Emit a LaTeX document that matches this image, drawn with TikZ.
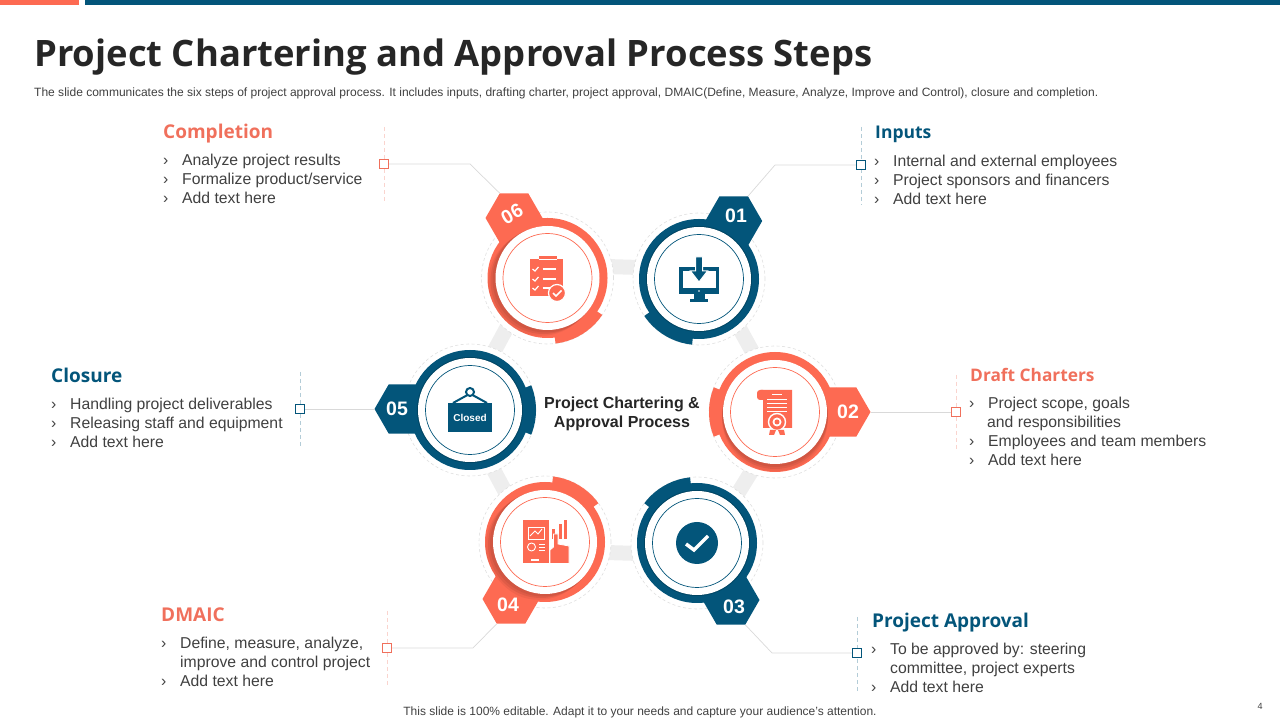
\documentclass[tikz,border=0pt]{standalone}
\usepackage{fontspec}
\setmainfont{Liberation Sans}
\newfontfamily\headfont{Open Sans}
\usetikzlibrary{shapes,shapes.geometric,positioning,backgrounds}
\definecolor{coral}{HTML}{FD6A52}
\definecolor{navy}{HTML}{03557A}
\definecolor{headcoral}{HTML}{F0705C}
\definecolor{inktext}{HTML}{404040}
\definecolor{titleink}{HTML}{262626}
\definecolor{leadgray}{HTML}{D9D9D9}
\tikzset{
  ringnode/.style={circle,inner sep=0pt,minimum size=120pt},
  badge/.style={regular polygon,regular polygon sides=6,inner sep=0pt,minimum size=57pt},
  badgetext/.style={text=white,font=\fontsize{19.5}{19.5}\selectfont\bfseries,inner sep=0pt},
  headtext/.style={anchor=base west,inner sep=0pt,font=\headfont\fontsize{19}{22}\selectfont\bfseries},
  listtext/.style={anchor=north west,inner sep=0pt,align=left,text=inktext,font=\fontsize{15.75}{19}\selectfont},
  marker/.style={draw=#1,fill=white,line width=.9pt,minimum size=9.5pt,inner sep=0pt},
  linkbar/.style={draw=gray!13,line width=15pt},
  leadline/.style={draw=leadgray,line width=.7pt},
  guideline/.style={draw=#1!30,line width=.6pt,dash pattern=on 4pt off 3pt}
}
\newcommand{\itm}{\makebox[19pt][l]{›}}
\begin{document}
\begin{tikzpicture}[x=1pt,y=1pt]
  \useasboundingbox (0,0) rectangle (1280,720);
  % top strips
  \fill[coral] (0,715) rectangle (79,720);
  \fill[navy] (85,715) rectangle (1280,720);
  % heading lines
  \node[anchor=base west,inner sep=0pt,text=titleink,font=\headfont\fontsize{36.4}{40}\selectfont\bfseries] (title) at (34,653) {Project Chartering and Approval Process Steps};
  \node[anchor=west,inner sep=0pt,text=inktext,font=\fontsize{12.02}{14}\selectfont] (subtitle) at (34,626.5) {The slide communicates the six steps of project approval process. It includes inputs, drafting charter, project approval, DMAIC(Define, Measure, Analyze, Improve and Control), closure and completion.};
  \node[inner sep=0pt,text=inktext,font=\fontsize{12}{14}\selectfont] (footer) at (640,8) {This slide is 100\% editable. Adapt it to your needs and capture your audience's attention.};
  \node[inner sep=0pt,text=inktext,font=\fontsize{9}{10}\selectfont] (pageno) at (1260,14) {4};
  % the six rings
  \foreach \nm/\cx/\cy/\col/\from/\to/\bx/\by/\dx/\dy in {
    1/699/441/navy/214/264/733.7/499/0/0,
    2/775/308/coral/158/202/842/308/0/-4,
    3/697/177/navy/96/143/731/120/0/0,
    4/545/178/coral/36/83/511/121/-4/-3,
    5/470/310/navy/-22/22/403/311/0/0,
    6/547.5/442/coral/-83/-34/514/502/-4/-3}{
    \filldraw[fill=white,draw=gray!25,line width=.6pt,dash pattern=on 3pt off 2.5pt] (\cx,\cy) circle (66);
    \fill[\col] (\cx,\cy) -- ++(\from:66) arc[start angle=\from,end angle=\to,radius=66] -- cycle;
    \node[badge,fill=\col] (badge\nm) at (\bx,\by) {};
    \node[ringnode,fill=\col] (ring\nm) at (\cx,\cy) {};
    \begin{scope}
      \clip (\cx,\cy) circle (60);
      \fill[black,opacity=.05] (\cx+\dx*1.6,\cy+\dy*1.6) circle (53);
      \fill[black,opacity=.07] (\cx+\dx,\cy+\dy) circle (53);
      \fill[black,opacity=.06] (\cx+\dx*.5,\cy+\dy*.5) circle (53);
    \end{scope}
    \fill[white] (\cx,\cy) circle (52);
    \draw[\col,line width=.7pt] (\cx,\cy) circle (44.5);
  }
  % links between rings
  \begin{pgfonlayer}{background}
    \draw[linkbar] (ring6.11) -- (ring1.169);
    \draw[linkbar] (ring1.310) -- (ring2.110);
    \draw[linkbar] (ring2.249) -- (ring3.50);
    \draw[linkbar] (ring3.190) -- (ring4.350);
    \draw[linkbar] (ring4.129) -- (ring5.291);
    \draw[linkbar] (ring5.68) -- (ring6.230);
  \end{pgfonlayer}
  % numbers
  \node[badgetext] (num1) at (736,504) {01};
  \node[badgetext] (num2) at (848,308) {02};
  \node[badgetext] (num3) at (734,113) {03};
  \node[badgetext] (num4) at (508,115) {04};
  \node[badgetext] (num5) at (397,311) {05};
  \node[badgetext,rotate=30] (num6) at (512,506) {06};
  % centre text
  \node[align=center,inner sep=0pt,text=titleink,font=\fontsize{16}{19}\selectfont\bfseries] (hub) at (622,306) {Project Chartering \&\\Approval Process};
  % icon 01 monitor
  \begin{scope}[shift={(ring1.center)}]
    \fill[navy] (-20,12) rectangle (20,-15);
    \fill[white] (-16.5,8) rectangle (16.5,-9);
    \fill[navy] (-5.5,-15) rectangle (5.5,-20);
    \fill[navy] (-9,-20) rectangle (9,-23);
    \fill[white] (0,-12) circle (.9);
    \filldraw[navy,draw=white,line width=1pt] (-3.5,22) -- (3.5,22) -- (3.5,8) -- (8.5,8) -- (0,-3) -- (-8.5,8) -- (-3.5,8) -- cycle;
  \end{scope}
  % icon 02 scroll
  \begin{scope}[shift={(ring2.center)}]
    \fill[coral,rounded corners=3pt] (-18,22) rectangle (-9,12);
    \fill[coral] (-14,22) -- (17,22) -- (17,-16) -- (-12,-16) -- (-12,22) -- cycle;
    \draw[white,line width=1pt] (-3,17) -- (7,17);
    \foreach \ly in {12,8,4,0}
      \draw[white,line width=1pt] (-8,\ly) -- (12,\ly);
    \filldraw[coral,draw=white,line width=1.4pt] (2,-10) circle (8.5);
    \fill[white] (2,-10) circle (4.5);
    \fill[coral] (2,-10) circle (2.5);
    \fill[coral] (-5,-18) -- (1,-18) -- (-1,-23) -- (-6,-23) -- cycle;
    \fill[coral] (3,-18) -- (9,-18) -- (10,-23) -- (5,-23) -- cycle;
  \end{scope}
  % icon 03 tick
  \begin{scope}[shift={(ring3.center)}]
    \fill[navy] (0,0) circle (21);
    \draw[white,line width=3.5pt] (-11,-1) -- (-3,-7) -- (11,7);
  \end{scope}
  % icon 04 phone and hand
  \begin{scope}[shift={(ring4.center)}]
    \fill[coral] (-22,22) rectangle (4,-21);
    \draw[white,line width=.9pt] (-17,15) rectangle (-1,3);
    \draw[white,line width=.9pt] (-15,6) -- (-10,11) -- (-7,8) -- (-3,13);
    \draw[white,line width=.9pt] (-13.5,-5) circle (4);
    \draw[white,line width=.8pt] (-6,-2) -- (0,-2) (-6,-5) -- (0,-5) (-6,-8) -- (0,-8);
    \fill[white] (-14,-17) rectangle (-6,-19);
    \fill[coral] (6.5,3) rectangle (10,13);
    \fill[coral] (13.5,3) rectangle (17,18);
    \fill[coral] (18.5,3) rectangle (22,22);
    \filldraw[coral,draw=white,line width=.8pt] (5,-21.5) -- (5,-8) -- (8.5,-5) -- (8.5,8) -- (13,8) -- (13,-2) -- (24,-4) -- (24,-21.5) -- cycle;
  \end{scope}
  % icon 05 sign
  \begin{scope}[shift={(ring5.center)}]
    \draw[navy,line width=2pt] (0,18) circle (4);
    \draw[navy,line width=2pt] (-17,7) -- (-2.5,15) (17,7) -- (2.5,15);
    \node[fill=navy,text=white,minimum width=44pt,minimum height=29pt,inner sep=0pt,font=\fontsize{10}{12}\selectfont\bfseries] (signboard) at (0,-7.5) {Closed};
  \end{scope}
  % icon 06 clipboard
  \begin{scope}[shift={(ring6.center)}]
    \fill[coral] (-18,19) rectangle (15,-18);
    \fill[coral] (-9,22) rectangle (9,16);
    \draw[white,line width=.8pt] (-9,19) -- (9,19);
    \foreach \ly in {9,-1,-10}{
      \draw[white,line width=1.2pt] (-15,\ly) -- (-12.5,\ly-2) -- (-9,\ly+2);
      \draw[white,line width=1.2pt] (-5,\ly) -- (8,\ly);
    }
    \filldraw[coral,draw=white,line width=1.2pt] (9.5,-15) circle (8.5);
    \draw[white,line width=1.6pt] (5.5,-15) -- (8.5,-18) -- (14,-12.5);
  \end{scope}
  % side blocks
  \node[headtext,text=headcoral] (headcompletion) at (163,581) {Completion};
  \node[listtext] (listcompletion) at (163,566.5) {\itm Analyze project results\\\itm Formalize product/service\\\itm Add text here};
  \node[headtext,text=navy,font=\headfont\fontsize{17.5}{22}\selectfont\bfseries] (headinputs) at (875,581) {Inputs};
  \node[listtext] (listinputs) at (874,565.5) {\itm Internal and external employees\\\itm Project sponsors and financers\\\itm Add text here};
  \node[headtext,text=headcoral,font=\headfont\fontsize{17.3}{22}\selectfont\bfseries] (headdraft) at (970,338) {Draft Charters};
  \node[listtext] (listdraft) at (969,323.5) {\itm Project scope, goals\\\hspace*{18pt}and responsibilities\\\itm Employees and team members\\\itm Add text here};
  \node[headtext,text=navy] (headclosure) at (51,337) {Closure};
  \node[listtext] (listclosure) at (51,322.5) {\itm Handling project deliverables\\\itm Releasing staff and equipment\\\itm Add text here};
  \node[headtext,text=headcoral] (headdmaic) at (161,98.5) {DMAIC};
  \node[listtext] (listdmaic) at (161,83.5) {\itm Define, measure, analyze,\\\hspace*{19pt}improve and control project\\\itm Add text here};
  \node[headtext,text=navy] (headapproval) at (872,92.5) {Project Approval};
  \node[listtext] (listapproval) at (871,77.5) {\itm To be approved by: steering\\\hspace*{19pt}committee, project experts\\\itm Add text here};
  % guides, markers and lead lines
  \begin{pgfonlayer}{background}
    \draw[guideline=headcoral] (384,593) -- (384,517);
    \draw[guideline=navy] (861,593) -- (861,515);
    \draw[guideline=headcoral] (956,345) -- (956,270);
    \draw[guideline=navy] (300,348) -- (300,274);
    \draw[guideline=headcoral] (387,109) -- (387,33);
    \draw[guideline=navy] (857,103) -- (857,28);
  \end{pgfonlayer}
  \node[marker=headcoral] (mark6) at (384,556) {};
  \node[marker=navy] (mark1) at (861,555) {};
  \node[marker=headcoral] (mark2) at (956,308) {};
  \node[marker=navy] (mark5) at (300,311) {};
  \node[marker=headcoral] (mark4) at (387,72) {};
  \node[marker=navy] (mark3) at (857,67) {};
  \coordinate (bend6) at (470,556);
  \coordinate (bend1) at (775,555);
  \coordinate (bend4) at (473,72);
  \coordinate (bend3) at (772,67);
  \draw[leadline] (mark6) -- (bend6) -- (badge6.corner 2);
  \draw[leadline] (mark1) -- (bend1) -- (badge1.corner 1);
  \draw[leadline] (mark2) -- (badge2.corner 6);
  \draw[leadline] (mark3) -- (bend3) -- (badge3.corner 5);
  \draw[leadline] (mark4) -- (bend4) -- (badge4.corner 4);
  \draw[leadline] (mark5) -- (badge5.corner 3);
\end{tikzpicture}
\end{document}
